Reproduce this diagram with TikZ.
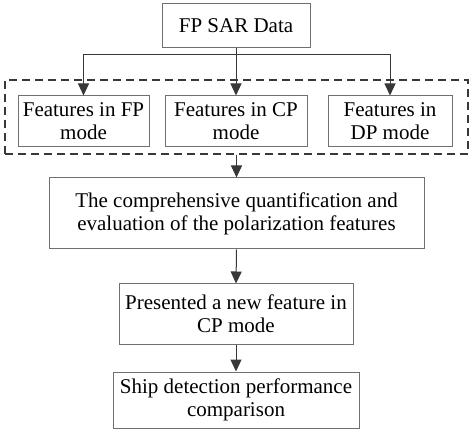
\documentclass[tikz,border=0pt]{standalone}
\usepackage{fontspec}
\setmainfont{Liberation Serif}
\usetikzlibrary{arrows.meta}
\definecolor{boxgray}{HTML}{707070}
\definecolor{arrowgray}{HTML}{383838}
\tikzset{
    stagebox/.style={draw=boxgray, line width=0.5pt, align=center, inner sep=0pt,
        font=\fontsize{10.5}{11.5}\selectfont},
    flowarrow/.style={draw=arrowgray, line width=0.5pt,
        -{Triangle[width=5.5pt,length=6pt]}},
}
\begin{document}
\begin{tikzpicture}[x=0.5pt, y=-0.5pt]
\useasboundingbox (0,0) rectangle (474,431);

% input data
\node (data) [stagebox,
    minimum width=74pt,
    minimum height=22pt
] at (236,26) {FP SAR Data};

% polarization modes
\node (group) [draw=arrowgray,
    dashed,
    dash pattern=on 4pt off 2.5pt,
    line width=0.75pt,
    minimum width=231.5pt,
    minimum height=37pt,
    inner sep=0pt
] at (236.5,117) {};

\node (fpfeat) [stagebox,
    minimum width=65.5pt,
    minimum height=25.5pt
] at (83.5,121.5) {Features in FP\\mode};

\node (cpfeat) [stagebox,
    minimum width=71pt,
    minimum height=25.5pt
] at (236,121.5) {Features in CP\\mode};

\node (dpfeat) [stagebox,
    minimum width=62pt,
    minimum height=25.5pt
] at (390,121.5) {Features in\\DP mode};

% evaluation and detection
\node (quant) [stagebox,
    minimum width=187.5pt,
    minimum height=35.5pt
] at (236.5,213.5) {The comprehensive quantification and\\evaluation of the polarization features};

\node (newfeat) [stagebox,
    minimum width=117pt,
    minimum height=30pt
] at (236,314) {Presented a new feature in\\CP mode};

\node (ship) [stagebox,
    minimum width=123pt,
    minimum height=28pt
] at (236,400) {Ship detection performance\\comparison};

\coordinate (split) at (236,55);

\draw [draw=arrowgray, line width=0.5pt](data.south) -- (split);
\draw [flowarrow](split) -| (fpfeat.north);
\draw [flowarrow](split) -- (cpfeat.north);
\draw [flowarrow](split) -| (dpfeat.north);

\draw [flowarrow](group.south) -- (quant.north);
\draw [flowarrow](quant.south) -- (newfeat.north);
\draw [flowarrow](newfeat.south) -- (ship.north);

\end{tikzpicture}
\end{document}
